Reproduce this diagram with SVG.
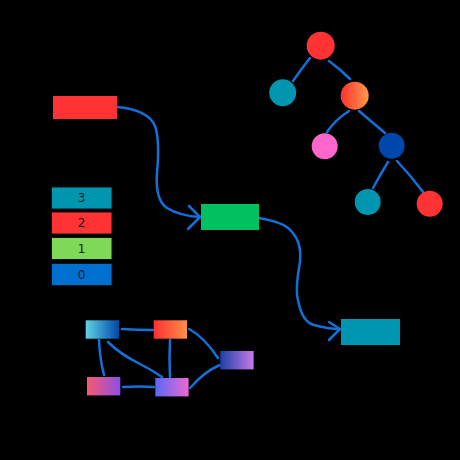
<svg xmlns="http://www.w3.org/2000/svg" width="460" height="460" viewBox="0 0 460 460">
<defs>
<linearGradient id="gOr" x1="0" y1="0" x2="1" y2="0"><stop offset="0" stop-color="#ff3030"/><stop offset="1" stop-color="#ff9a4a"/></linearGradient>
<linearGradient id="gA" x1="0" y1="0" x2="1" y2="0"><stop offset="0" stop-color="#5ed4e4"/><stop offset="1" stop-color="#0048a8"/></linearGradient>
<linearGradient id="gB" x1="0" y1="0" x2="1" y2="0"><stop offset="0" stop-color="#ff3030"/><stop offset="1" stop-color="#ff9048"/></linearGradient>
<linearGradient id="gC" x1="0" y1="0" x2="1" y2="0"><stop offset="0" stop-color="#1c40a8"/><stop offset="1" stop-color="#c878e8"/></linearGradient>
<linearGradient id="gD" x1="0" y1="0" x2="1" y2="0"><stop offset="0" stop-color="#fa5870"/><stop offset="1" stop-color="#8a50e8"/></linearGradient>
<linearGradient id="gE" x1="0" y1="0" x2="1" y2="0"><stop offset="0" stop-color="#5868f8"/><stop offset="1" stop-color="#f068d0"/></linearGradient>
</defs>
<style>
.ln{fill:none;stroke:#1470d8;stroke-width:2.5;stroke-linecap:round;stroke-linejoin:round}
.lg{stroke:#111;stroke-width:1}
.lt{font-family:"DejaVu Sans","Liberation Sans",sans-serif;font-size:12px;fill:#1a1a1a;text-anchor:middle}
</style>
<rect width="460" height="460" fill="#000"/>
<g id="connectors">
<path class="ln" d="M310,58 Q302,68 293,81"/>
<path class="ln" d="M329,61 Q340,69 350,79"/>
<path class="ln" d="M349,111 Q335,120 327,132"/>
<path class="ln" d="M359,111 Q372,122 385,133"/>
<path class="ln" d="M388,162 Q380,175 373,188"/>
<path class="ln" d="M397,161 Q411,176 423,192"/>
<path class="ln" d="M118,107 Q148,110 155,126 Q160,140 157,173 Q155,200 167,208 Q180,216 200,217"/>
<path class="ln" d="M189,206 L200,217 L188,229"/>
<path class="ln" d="M258,218 Q285,222 292,232 Q302,243 300,262 Q295,290 298,300 Q302,322 314,325 Q328,329 340,329"/>
<path class="ln" d="M329,322 L340,329 L329,340"/>
<path class="ln" d="M122,329 Q138,330 153,330"/>
<path class="ln" d="M99,340 Q100,360 104,375"/>
<path class="ln" d="M108,342 Q120,354 140,364 Q152,370 162,377"/>
<path class="ln" d="M170,340 Q169,358 170,377"/>
<path class="ln" d="M189,329 Q204,337 218,358"/>
<path class="ln" d="M123,387 Q140,386 154,387"/>
<path class="ln" d="M190,388 Q205,371 220,365"/>
</g>
<g id="tree-root"><circle cx="320.7" cy="45.7" r="14" fill="#ff3333"/></g>
<g id="tree-l"><circle cx="282.7" cy="92.7" r="13.5" fill="#0096b0"/></g>
<g id="tree-r"><circle cx="354.7" cy="95.7" r="14" fill="url(#gOr)"/></g>
<g id="tree-rl"><circle cx="324.7" cy="146.3" r="13" fill="#ff66cc"/></g>
<g id="tree-rr"><circle cx="391.7" cy="145.7" r="13" fill="#0047ab"/></g>
<g id="tree-rrl"><circle cx="367.7" cy="202" r="13" fill="#0096b0"/></g>
<g id="tree-rrr"><circle cx="429.7" cy="203.7" r="13" fill="#ff3333"/></g>
<g id="flow-red"><rect x="53" y="96" width="64" height="23" fill="#ff3333"/></g>
<g id="flow-green"><rect x="201" y="204" width="58" height="26" fill="#00c060"/></g>
<g id="flow-teal"><rect x="341" y="319" width="59" height="26" fill="#0096b0"/></g>
<g id="stack-3"><rect class="lg" x="51.5" y="187" width="60.5" height="22" fill="#0096b0"/><text class="lt" x="81.5" y="202">3</text></g>
<g id="stack-2"><rect class="lg" x="51.5" y="212" width="60.5" height="22" fill="#ff3333"/><text class="lt" x="81.5" y="227">2</text></g>
<g id="stack-1"><rect class="lg" x="51.5" y="237.5" width="60.5" height="22" fill="#80d858"/><text class="lt" x="81.5" y="252.5">1</text></g>
<g id="stack-0"><rect class="lg" x="51.5" y="263.5" width="60.5" height="22" fill="#0070d0"/><text class="lt" x="81.5" y="278.5">0</text></g>
<g id="g-a"><rect x="85.7" y="320.3" width="33.3" height="18.4" fill="url(#gA)"/></g>
<g id="g-b"><rect x="153.7" y="320.3" width="33.3" height="18.4" fill="url(#gB)"/></g>
<g id="g-c"><rect x="220.3" y="351" width="33.3" height="18.4" fill="url(#gC)"/></g>
<g id="g-d"><rect x="87" y="377" width="33.3" height="18.4" fill="url(#gD)"/></g>
<g id="g-e"><rect x="155.3" y="378" width="33.3" height="18.4" fill="url(#gE)"/></g>
</svg>
